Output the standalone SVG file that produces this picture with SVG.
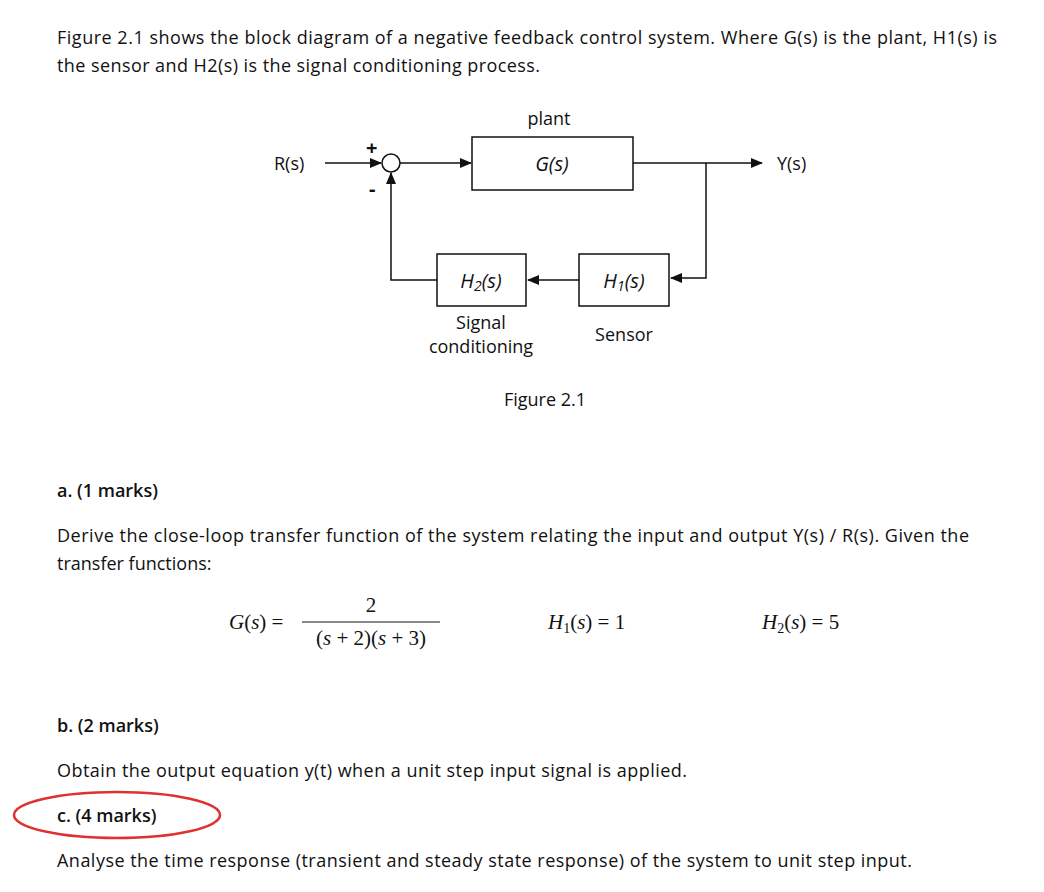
<svg xmlns="http://www.w3.org/2000/svg" width="1044" height="892" viewBox="0 0 1044 892">
<style>
.t{font-family:"Open Sans","Liberation Sans",sans-serif;font-size:18px;fill:#111}
.h{font-weight:600}
.d{font-family:"Open Sans","Liberation Sans",sans-serif;font-size:18px;fill:#111}
.d.i{font-style:italic;font-size:20px}
.m{font-family:"Liberation Serif","DejaVu Serif",serif;font-size:21px;fill:#111}
.b{fill:#fff;stroke:#111;stroke-width:1.5}
.c line,.c path{stroke:#111;stroke-width:1.5;fill:none}
</style>
<defs><marker id="a" markerWidth="12" markerHeight="10" refX="11" refY="5" orient="auto" markerUnits="userSpaceOnUse"><path d="M0,0 L12,5 L0,10 z" fill="#111"/></marker></defs>
<rect width="1044" height="892" fill="#fff"/>
<text class="t" x="57" y="44" textLength="940">Figure 2.1 shows the block diagram of a negative feedback control system. Where G(s) is the plant, H1(s) is</text>
<text class="t" x="57" y="72" textLength="483">the sensor and H2(s) is the signal conditioning process.</text>
<g class="c">
<line x1="325" y1="163" x2="381" y2="163" marker-end="url(#a)"/>
<line x1="400" y1="163" x2="471" y2="163" marker-end="url(#a)"/>
<line x1="633" y1="163" x2="762" y2="163" marker-end="url(#a)"/>
<path d="M706,163 V278 H671" marker-end="url(#a)"/>
<line x1="579" y1="280" x2="528" y2="280" marker-end="url(#a)"/>
<path d="M437,280 H391 V173" marker-end="url(#a)"/>
</g>
<g id="sum"><circle cx="391" cy="163" r="9" class="b"/><text class="d" x="366" y="155" style="font-weight:bold;font-size:20px">+</text><text class="d" x="369" y="196" style="font-weight:bold;font-size:20px">-</text></g>
<g id="R"><text class="d" x="274" y="170">R(s)</text></g>
<g id="Y"><text class="d" x="777" y="170">Y(s)</text></g>
<g id="G"><rect x="472" y="137" width="161" height="53" class="b"/><text class="d i" x="552" y="171" text-anchor="middle">G(s)</text><text class="d" x="549" y="125" text-anchor="middle">plant</text></g>
<g id="H1"><rect x="579" y="254" width="90" height="52" class="b"/><text class="d i" x="624" y="288" text-anchor="middle">H<tspan font-size="14" dy="3">1</tspan><tspan dy="-3">(s)</tspan></text><text class="d" x="624" y="341" text-anchor="middle">Sensor</text></g>
<g id="H2"><rect x="437" y="254" width="89" height="52" class="b"/><text class="d i" x="481" y="288" text-anchor="middle">H<tspan font-size="14" dy="3">2</tspan><tspan dy="-3">(s)</tspan></text><text class="d" x="481" y="329" text-anchor="middle">Signal</text><text class="d" x="481" y="353" text-anchor="middle">conditioning</text></g>
<text class="d" x="545" y="406" text-anchor="middle">Figure 2.1</text>
<text class="t h" x="57" y="497">a. (1 marks)</text>
<text class="t" x="57" y="542" textLength="912">Derive the close-loop transfer function of the system relating the input and output Y(s) / R(s). Given the</text>
<text class="t" x="57" y="570">transfer functions:</text>
<g class="m">
<text x="229" y="629"><tspan font-style="italic">G</tspan>(<tspan font-style="italic">s</tspan>) =</text>
<text x="371" y="612" text-anchor="middle">2</text>
<line x1="302" y1="622" x2="440" y2="622" stroke="#111" stroke-width="1"/>
<text x="371" y="645" text-anchor="middle">(<tspan font-style="italic">s</tspan> + 2)(<tspan font-style="italic">s</tspan> + 3)</text>
<text x="548" y="629"><tspan font-style="italic">H</tspan><tspan font-size="14" dy="4">1</tspan><tspan dy="-4">(</tspan><tspan font-style="italic">s</tspan>) = 1</text>
<text x="762" y="629"><tspan font-style="italic">H</tspan><tspan font-size="14" dy="4">2</tspan><tspan dy="-4">(</tspan><tspan font-style="italic">s</tspan>) = 5</text>
</g>
<text class="t h" x="57" y="732">b. (2 marks)</text>
<text class="t" x="57" y="777" textLength="630">Obtain the output equation y(t) when a unit step input signal is applied.</text>
<text class="t h" x="57" y="822">c. (4 marks)</text>
<ellipse cx="117" cy="815" rx="103" ry="23" fill="none" stroke="#e03030" stroke-width="2.5"/>
<text class="t" x="57" y="867" textLength="855">Analyse the time response (transient and steady state response) of the system to unit step input.</text>
</svg>
